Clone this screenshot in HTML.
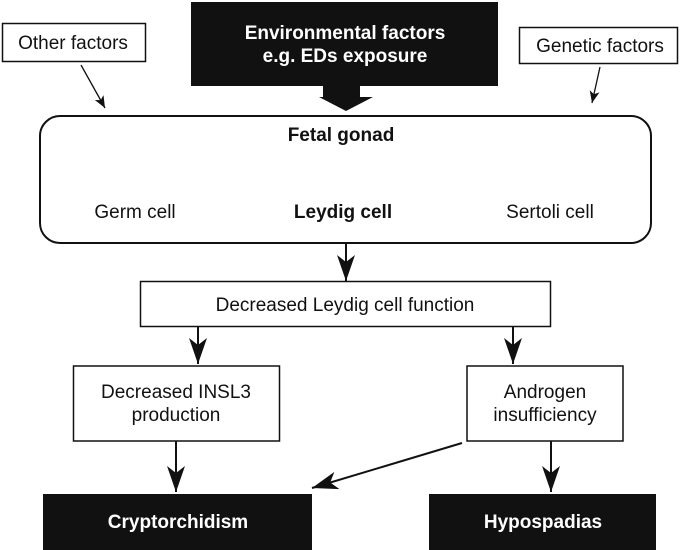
<!DOCTYPE html>
<html><head><style>
body{margin:0;background:#fff;}
svg{display:block;font-family:"Liberation Sans",Arial,sans-serif;}
</style></head><body>
<svg width="685" height="550" viewBox="0 0 685 550">
<defs>
<marker id="a" markerWidth="26" markerHeight="18" refX="26" refY="9" orient="auto" markerUnits="userSpaceOnUse"><path d="M0,0 L26,9 L0,18 L7,9 Z" fill="#111"/></marker>
<marker id="s" markerWidth="12" markerHeight="10" refX="12" refY="5" orient="auto" markerUnits="userSpaceOnUse"><path d="M0,0 L12,5 L0,10 L3,5 Z" fill="#111"/></marker>
</defs>
<g font-size="19" fill="#111" text-anchor="middle">
<rect x="2.5" y="23.5" width="143" height="38" fill="#fff" stroke="#111" stroke-width="1.5"/>
<text x="73" y="49">Other factors</text>
<rect x="191" y="2" width="307" height="84" fill="#111"/>
<text x="345" y="39" font-weight="bold" fill="#fff">Environmental factors</text>
<text x="345" y="62" font-weight="bold" fill="#fff">e.g. EDs exposure</text>
<rect x="519.5" y="27.5" width="158" height="36" fill="#fff" stroke="#111" stroke-width="1.5"/>
<text x="600" y="52">Genetic factors</text>
<path d="M81,65 L105,108" stroke="#111" stroke-width="1.3" marker-end="url(#s)"/>
<path d="M600,67 L592,103" stroke="#111" stroke-width="1.3" marker-end="url(#s)"/>
<path d="M323,86 H360 V97 H373 L346,111 L319,97 H323 Z" fill="#111"/>
<rect x="40" y="116" width="611" height="127" rx="20" fill="#fff" stroke="#111" stroke-width="2"/>
<text x="341" y="141" font-weight="bold">Fetal gonad</text>
<text x="135" y="218">Germ cell</text>
<text x="343" y="218" font-weight="bold">Leydig cell</text>
<text x="550" y="218">Sertoli cell</text>
<path d="M346,243 V281" stroke="#111" stroke-width="2" marker-end="url(#a)"/>
<rect x="140.5" y="281.5" width="410" height="45" fill="#fff" stroke="#111" stroke-width="1.5"/>
<text x="345" y="311">Decreased Leydig cell function</text>
<path d="M198,327 V364" stroke="#111" stroke-width="2" marker-end="url(#a)"/>
<path d="M513,327 V364" stroke="#111" stroke-width="2" marker-end="url(#a)"/>
<rect x="73.5" y="366" width="206" height="75" fill="#fff" stroke="#111" stroke-width="1.5"/>
<text x="176" y="398">Decreased INSL3</text>
<text x="176" y="421">production</text>
<rect x="467" y="366" width="156" height="75" fill="#fff" stroke="#111" stroke-width="1.5"/>
<text x="545" y="398">Androgen</text>
<text x="545" y="421">insufficiency</text>
<path d="M176,441 V492" stroke="#111" stroke-width="2" marker-end="url(#a)"/>
<path d="M551,441 V492" stroke="#111" stroke-width="2" marker-end="url(#a)"/>
<path d="M462,443 L312,488" stroke="#111" stroke-width="2" marker-end="url(#a)"/>
<rect x="43" y="494" width="269" height="56" fill="#111"/>
<text x="178" y="528" font-weight="bold" fill="#fff">Cryptorchidism</text>
<rect x="429" y="494" width="227" height="56" fill="#111"/>
<text x="543" y="528" font-weight="bold" fill="#fff">Hypospadias</text>
</g>
</svg>
</body></html>
